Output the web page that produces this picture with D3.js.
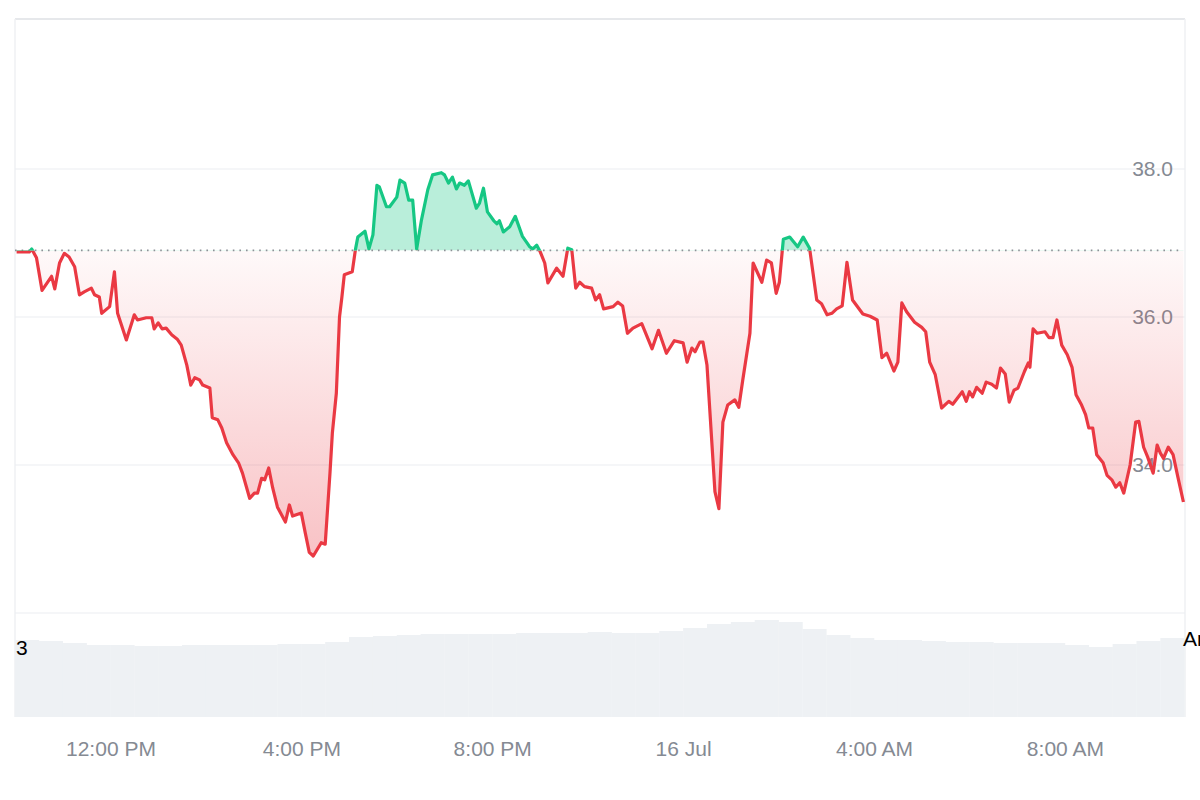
<!DOCTYPE html>
<html>
<head>
<meta charset="utf-8">
<script src="https://cdn.jsdelivr.net/npm/d3@7"></script>
<style>
  body { margin: 0; background: #fff; }
</style>
</head>
<body>
<div id="chart"></div>
<script>
// price points, minutes after 10:00 AM 15 Jul
const minutesFromStart = [
  2, 18, 21, 27, 34, 46, 50, 56, 62, 68, 75, 81, 87, 96, 100, 106, 109, 119, 125, 129,
  140, 150, 154, 165, 172, 175, 180, 185, 190, 197, 204, 209, 216, 221, 226, 232, 236, 245, 248, 255,
  260, 266, 274, 281, 286, 295, 301, 305, 310, 314, 319, 324, 330, 340, 345, 349, 360, 365, 370, 375,
  385, 390, 396, 399, 404, 408, 411, 414, 424, 428, 431, 440, 445, 450, 455, 458, 467, 471, 480, 484,
  490, 495, 500, 505, 511, 519, 525, 536, 540, 545, 550, 555, 559, 565, 570, 580, 584, 589, 594, 602,
  606, 609, 614, 622, 629, 638, 647, 651, 656, 660, 666, 670, 681, 689, 695, 700, 705, 710, 716, 725,
  730, 735, 740, 752, 758, 764, 770, 777, 788, 801, 809, 819, 829, 840, 845, 851, 855, 861, 865, 870,
  880, 885, 890, 896, 905, 910, 915, 924, 928, 939, 945, 951, 957, 961, 966, 974, 984, 991, 999, 1008,
  1014, 1021, 1027, 1033, 1040, 1046, 1053, 1066, 1075, 1084, 1090, 1096, 1105, 1110, 1115, 1121, 1131, 1140, 1145, 1150,
  1157, 1165, 1174, 1179, 1191, 1196, 1200, 1204, 1209, 1216, 1221, 1228, 1234, 1239, 1245, 1250, 1256, 1261, 1269, 1274,
  1276, 1280, 1285, 1295, 1300, 1305, 1310, 1316, 1323, 1329, 1334, 1341, 1346, 1350, 1355, 1360, 1368, 1373, 1379, 1384,
  1389, 1394, 1402, 1409, 1413, 1419, 1424, 1431, 1436, 1440, 1444, 1450, 1456, 1462, 1469
];
const prices = [
  36.88, 36.88, 36.92, 36.80, 36.36, 36.55, 36.38, 36.73, 36.86, 36.81, 36.68, 36.30, 36.34, 36.39, 36.30, 36.27, 36.05, 36.14, 36.61, 36.05,
  35.69, 36.03, 35.96, 35.99, 35.99, 35.84, 35.92, 35.84, 35.85, 35.76, 35.70, 35.62, 35.35, 35.08, 35.18, 35.15, 35.08, 35.04, 34.64, 34.61,
  34.50, 34.30, 34.14, 34.03, 33.89, 33.55, 33.62, 33.62, 33.82, 33.80, 33.96, 33.69, 33.43, 33.23, 33.46, 33.31, 33.35, 33.08, 32.82, 32.77,
  32.95, 32.93, 33.89, 34.43, 34.97, 36.00, 36.27, 36.57, 36.61, 36.91, 37.08, 37.16, 36.92, 37.11, 37.78, 37.76, 37.49, 37.49, 37.62, 37.85,
  37.81, 37.58, 37.58, 36.92, 37.31, 37.72, 37.92, 37.95, 37.92, 37.81, 37.89, 37.73, 37.81, 37.78, 37.84, 37.47, 37.54, 37.74, 37.42, 37.30,
  37.26, 37.30, 37.15, 37.22, 37.36, 37.09, 36.95, 36.92, 36.97, 36.89, 36.73, 36.46, 36.66, 36.55, 36.93, 36.91, 36.39, 36.47, 36.41, 36.39,
  36.23, 36.30, 36.11, 36.14, 36.20, 36.15, 35.78, 35.85, 35.91, 35.57, 35.82, 35.51, 35.68, 35.65, 35.39, 35.58, 35.53, 35.66, 35.66, 35.35,
  33.64, 33.41, 34.58, 34.81, 34.88, 34.78, 35.15, 35.78, 36.73, 36.47, 36.77, 36.73, 36.32, 36.47, 37.05, 37.08, 36.95, 37.08, 36.93, 36.23,
  36.18, 36.03, 36.05, 36.11, 36.15, 36.74, 36.23, 36.04, 36.01, 35.96, 35.45, 35.51, 35.27, 35.39, 36.19, 36.07, 35.93, 35.86, 35.80, 35.39,
  35.22, 34.77, 34.86, 34.82, 34.99, 34.86, 34.99, 34.92, 35.05, 34.97, 35.12, 35.09, 35.04, 35.31, 35.23, 34.85, 35.01, 35.04, 35.26, 35.38,
  35.32, 35.84, 35.78, 35.80, 35.72, 35.72, 35.96, 35.62, 35.49, 35.32, 34.95, 34.81, 34.68, 34.50, 34.50, 34.14, 34.03, 33.86, 33.80, 33.70,
  33.76, 33.62, 34.00, 34.58, 34.59, 34.24, 34.11, 33.89, 34.27, 34.16, 34.09, 34.24, 34.14, 33.84, 33.50
];
const basePrice = 36.9;

// volume, one value per 30 min bucket (arbitrary units)
const volumes = [
  77, 76, 74, 72, 72, 71, 71, 72, 72, 72, 72, 73, 73, 75, 80, 81, 82, 83, 83, 83,
  83, 84, 84, 84, 85, 84, 84, 86, 89, 93, 95, 97, 95, 88, 82, 79, 77, 77, 76, 75,
  75, 74, 74, 74, 72, 70, 73, 76, 79
];

const gridValues = [32, 34, 36, 38];
const priceLabelValues = [34, 36, 38];
const timeTickHours = [12, 16, 20, 24, 28, 32];
const timeTickLabels = ["12:00 PM", "4:00 PM", "8:00 PM", "16 Jul", "4:00 AM", "8:00 AM"];

const W = 1200, H = 800;
const startTime = new Date(2024, 6, 15, 10, 0);
const endTime = new Date(2024, 6, 16, 10, 31);
const addMin = m => new Date(startTime.getTime() + m * 60000);

let data = minutesFromStart.map((m, i) => ({ date: addMin(m), price: prices[i] }));

let svg = d3.select('#chart')
  .append('svg')
  .attr('width', W)
  .attr('height', H)
  .style('font-family', '"Liberation Sans", Arial, sans-serif');

let xScale = d3.scaleTime().domain([startTime, endTime]).range([15, 1185]);
let yScale = d3.scaleLinear().domain([32, 40]).range([613, 21]);
let vScale = d3.scaleLinear().domain([0, 100]).range([717, 617]);
let yBase = yScale(basePrice);

let defs = svg.append('defs');
let grad = defs.append('linearGradient')
  .attr('id', 'redFade')
  .attr('gradientUnits', 'userSpaceOnUse')
  .attr('x1', 0).attr('x2', 0)
  .attr('y1', yBase).attr('y2', 570);
grad.append('stop').attr('offset', 0).attr('stop-color', '#ea3943').attr('stop-opacity', 0.03);
grad.append('stop').attr('offset', 1).attr('stop-color', '#ea3943').attr('stop-opacity', 0.32);

defs.append('clipPath').attr('id', 'clipUp')
  .append('rect').attr('x', 0).attr('y', 0).attr('width', W).attr('height', yBase);
defs.append('clipPath').attr('id', 'clipDown')
  .append('rect').attr('x', 0).attr('y', yBase).attr('width', W).attr('height', H - yBase);

// frame
svg.append('line').attr('x1', 15).attr('x2', 1185).attr('y1', 19).attr('y2', 19)
  .style('stroke', '#e6e8eb').style('stroke-width', 2);
svg.append('line').attr('x1', 15).attr('x2', 15).attr('y1', 19).attr('y2', 717)
  .style('stroke', '#eff1f3').style('stroke-width', 1.5);
svg.append('line').attr('x1', 1185).attr('x2', 1185).attr('y1', 19).attr('y2', 717)
  .style('stroke', '#eff1f3').style('stroke-width', 1.5);

// gridlines
svg.append('g').selectAll('line')
  .data(gridValues)
  .enter()
  .append('line')
  .attr('x1', 15).attr('x2', 1185)
  .attr('y1', d => yScale(d)).attr('y2', d => yScale(d))
  .style('stroke', '#eceef1')
  .style('stroke-width', 1.2);

// volume bars
let barW = xScale(addMin(30)) - xScale(startTime);
svg.append('g').selectAll('rect')
  .data(volumes)
  .enter()
  .append('rect')
  .attr('x', (d, i) => xScale(addMin(i * 30)))
  .attr('y', d => vScale(d))
  .attr('width', barW + 0.3)
  .attr('height', d => 717 - vScale(d))
  .style('fill', '#eef1f4');

// price labels (under the line)
let yAxis = svg.append('g')
  .attr('transform', 'translate(1185,0)')
  .call(d3.axisLeft(yScale).tickValues(priceLabelValues).tickSize(0).tickPadding(12).tickFormat(d3.format('.1f')));
yAxis.select('.domain').remove();
yAxis.selectAll('text').style('font-size', '21px').style('fill', '#858a93');

// areas
let area = d3.area().x(d => xScale(d.date)).y0(yBase).y1(d => yScale(d.price));
let line = d3.line().x(d => xScale(d.date)).y(d => yScale(d.price));

svg.append('path').datum(data).attr('d', area)
  .attr('clip-path', 'url(#clipDown)')
  .style('fill', 'url(#redFade)');
svg.append('path').datum(data).attr('d', area)
  .attr('clip-path', 'url(#clipUp)')
  .style('fill', '#16c784').style('opacity', 0.3);

// baseline dotted
svg.append('line')
  .attr('x1', 15).attr('x2', 1182)
  .attr('y1', yBase).attr('y2', yBase)
  .style('stroke', '#8d9096')
  .style('stroke-width', 1.6)
  .style('stroke-dasharray', '1.6,5');

// lines
svg.append('path').datum(data).attr('d', line)
  .attr('clip-path', 'url(#clipDown)')
  .style('fill', 'none').style('stroke', '#ea3943').style('stroke-width', 3.2)
  .style('stroke-linejoin', 'round');
svg.append('path').datum(data).attr('d', line)
  .attr('clip-path', 'url(#clipUp)')
  .style('fill', 'none').style('stroke', '#16c784').style('stroke-width', 3.2)
  .style('stroke-linejoin', 'round');

// x axis
let xAxis = svg.append('g')
  .attr('transform', 'translate(0,717)')
  .call(d3.axisBottom(xScale)
    .tickValues(timeTickHours.map(h => addMin((h - 10) * 60)))
    .tickSize(0)
    .tickPadding(24)
    .tickFormat((d, i) => timeTickLabels[i]));
xAxis.select('.domain').remove();
xAxis.selectAll('text').style('font-size', '21px').style('fill', '#858a93');

// stray labels, the right one is cut by the edge as in the source
svg.append('text').attr('x', 16).attr('y', 655).text('3')
  .style('font-size', '21px').style('fill', '#000');
svg.append('text').attr('x', 1183).attr('y', 646).text('Am')
  .style('font-size', '21px').style('fill', '#000');
</script>
</body>
</html>
